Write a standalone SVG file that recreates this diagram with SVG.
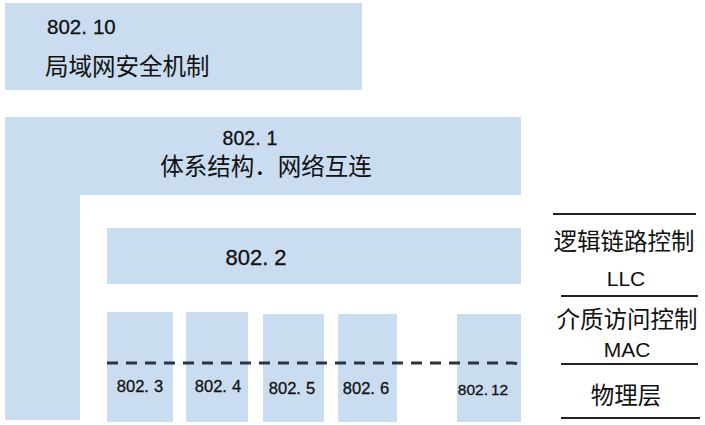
<svg xmlns="http://www.w3.org/2000/svg" width="705" height="425" viewBox="0 0 705 425">
<style>
.box{fill:#c9dcf0;stroke:none}
.t{font-family:"Liberation Sans","Noto Sans",sans-serif;fill:#111;stroke:#111;stroke-width:0.3}
.n{font-family:"Liberation Sans Narrow","Liberation Sans",sans-serif;fill:#111}
.c{font-family:"Noto Sans CJK SC",sans-serif;fill:#111}
.rule{stroke:#222;stroke-width:2;fill:none}
.dash{stroke:#2b3440;stroke-width:3;fill:none;stroke-dasharray:11 8}
</style>
<rect width="705" height="425" fill="#fff"/>
<g id="n-80210">
<rect class="box" x="5" y="3" width="357" height="87"/>
<text class="t" x="47" y="34" font-size="20.5">802.<tspan dx="6">10</tspan></text>
<text class="c" x="45" y="75" font-size="23.5">局域网安全机制</text>
</g>
<g id="n-8021">
<path class="box" d="M5 117 H521 V195 H80 V420 H5 Z"/>
<text class="t" x="250" y="145" font-size="19.5" text-anchor="middle">802.<tspan dx="6">1</tspan></text>
<text class="c" x="266" y="175" font-size="23.5" text-anchor="middle">体系结构．网络互连</text>
</g>
<g id="n-8022">
<rect class="box" x="107" y="228" width="414" height="56"/>
<text class="t" x="256" y="265" font-size="22" text-anchor="middle">802.<tspan dx="6">2</tspan></text>
</g>
<g id="n-8023">
<rect class="box" x="107" y="312" width="66" height="110"/>
<text class="t" x="140" y="392" font-size="16.5" text-anchor="middle">802.<tspan dx="5">3</tspan></text>
</g>
<g id="n-8024">
<rect class="box" x="186" y="312" width="62" height="110"/>
<text class="t" x="218" y="392" font-size="16.5" text-anchor="middle">802.<tspan dx="5">4</tspan></text>
</g>
<g id="n-8025">
<rect class="box" x="263" y="314" width="61" height="108"/>
<text class="t" x="292" y="394" font-size="16.5" text-anchor="middle">802.<tspan dx="5">5</tspan></text>
</g>
<g id="n-8026">
<rect class="box" x="338" y="314" width="59" height="108"/>
<text class="t" x="366" y="394" font-size="16.5" text-anchor="middle">802.<tspan dx="5">6</tspan></text>
</g>
<g id="n-80212">
<rect class="box" x="457" y="314" width="64" height="108"/>
<text class="t" x="483" y="395" font-size="15.5" text-anchor="middle">802.<tspan dx="3">12</tspan></text>
</g>
<g id="connectors">
<path class="dash" d="M107 363 H512 Q517 363 521 365"/>
</g>
<g id="layers">
<line class="rule" x1="553" y1="214" x2="696" y2="214"/>
<text class="c" x="624" y="250" font-size="23.5" text-anchor="middle">逻辑链路控制</text>
<text class="n" x="626" y="286" font-size="21" text-anchor="middle">LLC</text>
<line class="rule" x1="561" y1="296" x2="698" y2="296"/>
<text class="c" x="627" y="328" font-size="23.5" text-anchor="middle">介质访问控制</text>
<text class="n" x="627" y="357" font-size="21" text-anchor="middle">MAC</text>
<line class="rule" x1="561" y1="364" x2="698" y2="364"/>
<text class="c" x="626" y="404" font-size="23.5" text-anchor="middle">物理层</text>
<line class="rule" x1="561" y1="418" x2="700" y2="418"/>
</g>
</svg>
